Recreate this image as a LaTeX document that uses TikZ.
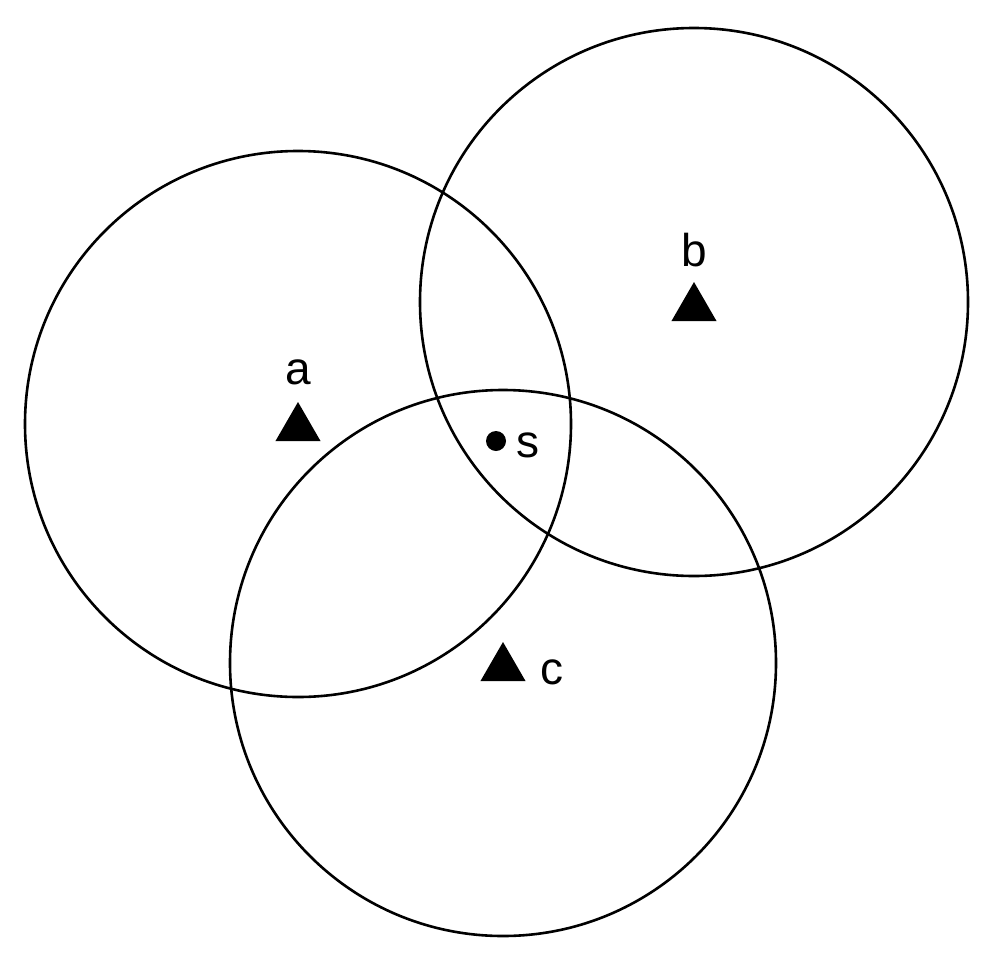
\documentclass[tikz,border=0pt]{standalone}
\usepackage{fontspec}
\setmainfont{Liberation Sans}
\usetikzlibrary{shapes.geometric}
\begin{document}
\begin{tikzpicture}[x=1pt,y=-1pt,
  ring/.style={draw,line width=2.6pt},
  anchorpt/.style={regular polygon,regular polygon sides=3,fill=black,inner sep=0pt,minimum size=52pt},
  lbl/.style={font=\fontsize{46}{50}\selectfont,inner sep=0pt}]
\useasboundingbox (0,0) rectangle (999,959);
\draw[ring] (298,424) circle[radius=273];
\draw[ring] (694,302) circle[radius=274];
\draw[ring] (503,663) circle[radius=273];
\node[anchorpt] (ta) at (298,428) {};
\node[anchorpt] (tb) at (694,308) {};
\node[anchorpt] (tc) at (503,668) {};
\node[lbl] (la) at (298,372) {a};
\node[lbl] (lb) at (694,250) {b};
\node[lbl] (lc) at (552,672) {c};
\fill (496,441) circle[radius=10];
\node[lbl] (ls) at (528,445) {s};
\end{tikzpicture}
\end{document}
